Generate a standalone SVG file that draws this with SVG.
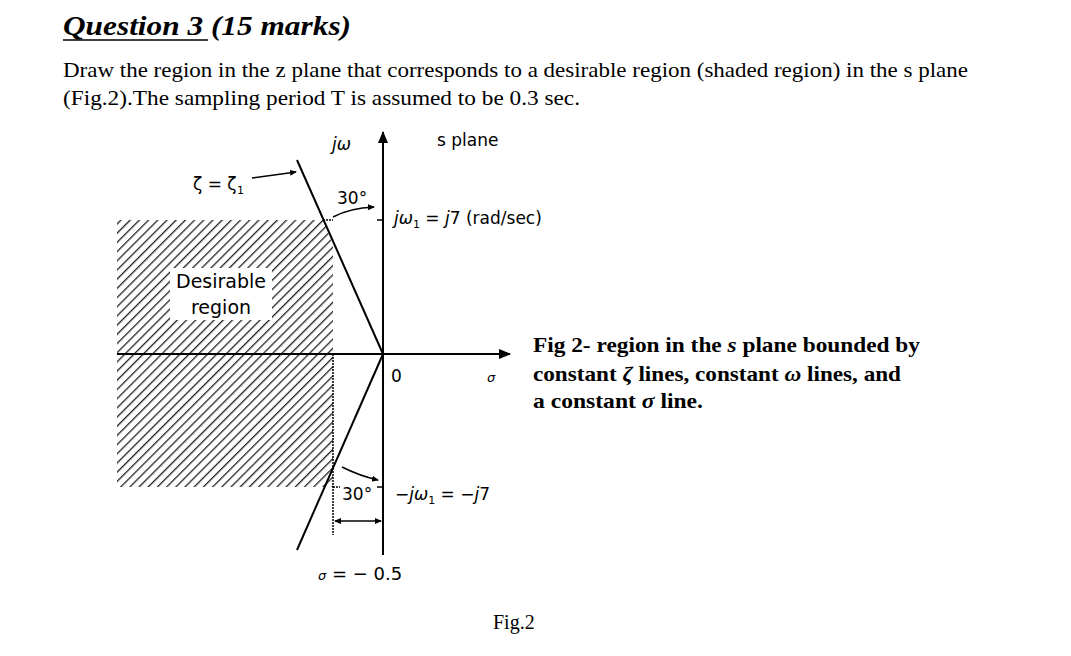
<svg xmlns="http://www.w3.org/2000/svg" width="1071" height="656" viewBox="0 0 1071 656">
<style>
.t{font-family:"Liberation Serif",serif;fill:#000}
.s{font-family:"DejaVu Sans","Liberation Sans",sans-serif;fill:#000}
.ln{stroke:#000;stroke-width:2;fill:none}
.dl{stroke:#000;stroke-width:1.5;fill:none}
</style>
<defs>
<pattern id="h" width="6.5" height="6.5" patternUnits="userSpaceOnUse" patternTransform="rotate(45)">
<rect width="6.5" height="6.5" fill="#fff"/><line x1="0" y1="0" x2="0" y2="6.5" stroke="#222" stroke-width="2.6"/>
</pattern>
<marker id="a" markerWidth="12" markerHeight="10" refX="11" refY="5" orient="auto" markerUnits="userSpaceOnUse"><path d="M0,0 L12,5 L0,10 Z" fill="#000"/></marker>
<marker id="as" markerWidth="7" markerHeight="6" refX="6" refY="3" orient="auto" markerUnits="userSpaceOnUse"><path d="M0,0 L7,3 L0,6 Z" fill="#000"/></marker>
<marker id="asr" markerWidth="7" markerHeight="6" refX="1" refY="3" orient="auto" markerUnits="userSpaceOnUse"><path d="M7,0 L0,3 L7,6 Z" fill="#000"/></marker>
</defs>
<rect width="1071" height="656" fill="#fff"/>
<g id="title">
<text class="t" x="63" y="35" font-size="28" font-weight="bold" font-style="italic" textLength="288" lengthAdjust="spacingAndGlyphs">Question 3 (15 marks)</text>
<line x1="63" y1="40" x2="208" y2="40" stroke="#000" stroke-width="1.5"/>
</g>
<g id="prompt">
<text class="t" x="63" y="77" font-size="21" textLength="905" lengthAdjust="spacingAndGlyphs">Draw the region in the z plane that corresponds to a desirable region (shaded region) in the s plane</text>
<text class="t" x="63" y="105" font-size="21" textLength="517" lengthAdjust="spacingAndGlyphs">(Fig.2).The sampling period T is assumed to be 0.3 sec.</text>
</g>
<g id="region">
<path d="M117,220 L323,220 L333,245 L333,487 L117,487 Z" fill="url(#h)"/>
<rect x="170" y="268" width="102" height="52" fill="#fff"/>
<text class="s" x="221" y="288" font-size="19" text-anchor="middle">Desirable</text>
<text class="s" x="221" y="314" font-size="19" text-anchor="middle">region</text>
</g>
<g id="connectors">
<line class="ln" x1="383" y1="555" x2="383" y2="132" marker-end="url(#a)"/>
<line class="ln" x1="117" y1="354" x2="510" y2="354" marker-end="url(#a)"/>
<line class="ln" x1="297" y1="160" x2="383" y2="354"/>
<line class="ln" x1="383" y1="354" x2="297" y2="550"/>
<line class="dl" x1="333" y1="354" x2="333" y2="535" stroke-dasharray="2,1"/>
<line class="dl" x1="323" y1="220" x2="333" y2="220" stroke-dasharray="2,1"/>
<line class="dl" x1="377" y1="220" x2="383" y2="220"/>
<line class="dl" x1="333" y1="487" x2="340" y2="487" stroke-dasharray="2,1"/>
<line class="dl" x1="377" y1="487" x2="383" y2="487"/>
<line class="dl" x1="335" y1="521" x2="381" y2="521" marker-start="url(#asr)" marker-end="url(#as)"/>
<line class="dl" x1="252" y1="178" x2="296" y2="172" marker-end="url(#as)"/>
<path class="dl" d="M333,217 Q350,208 374,207" marker-end="url(#as)"/>
<path class="dl" d="M342,467 Q360,476 378,480" marker-end="url(#as)"/>
</g>
<g id="labels">
<text class="s" x="332" y="150" font-size="17" font-style="italic">jω</text>
<text class="s" x="437" y="146" font-size="17">s plane</text>
<text class="s" x="193" y="190" font-size="17">ζ = ζ</text>
<text class="s" x="237" y="194" font-size="11">1</text>
<text class="s" x="337" y="204" font-size="17">30°</text>
<text class="s" x="394" y="224" font-size="17"><tspan font-style="italic">jω</tspan><tspan font-size="11" dy="4">1</tspan><tspan dy="-4"> = </tspan><tspan font-style="italic">j</tspan>7 (rad/sec)</text>
<text class="s" x="391" y="382" font-size="17">0</text>
<text class="s" x="487" y="382" font-size="13" font-style="italic">σ</text>
<text class="s" x="342" y="500" font-size="17">30°</text>
<text class="s" x="395" y="500" font-size="17">−<tspan font-style="italic">jω</tspan><tspan font-size="11" dy="4">1</tspan><tspan dy="-4"> = −</tspan><tspan font-style="italic">j</tspan>7</text>
<text class="s" x="318" y="580" font-size="18"><tspan font-size="13" font-style="italic">σ</tspan> = − 0.5</text>
</g>
<g id="caption">
<text class="t" x="533" y="352" font-size="22" font-weight="bold" textLength="387" lengthAdjust="spacingAndGlyphs">Fig 2- region in the <tspan font-style="italic">s</tspan> plane bounded by</text>
<text class="t" x="533" y="381" font-size="22" font-weight="bold" textLength="368" lengthAdjust="spacingAndGlyphs">constant <tspan font-style="italic">ζ</tspan> lines, constant <tspan font-style="italic">ω</tspan> lines, and</text>
<text class="t" x="533" y="408" font-size="22" font-weight="bold" textLength="170" lengthAdjust="spacingAndGlyphs">a constant <tspan font-style="italic">σ</tspan> line.</text>
<text class="t" x="493" y="629" font-size="20">Fig.2</text>
</g>
</svg>
